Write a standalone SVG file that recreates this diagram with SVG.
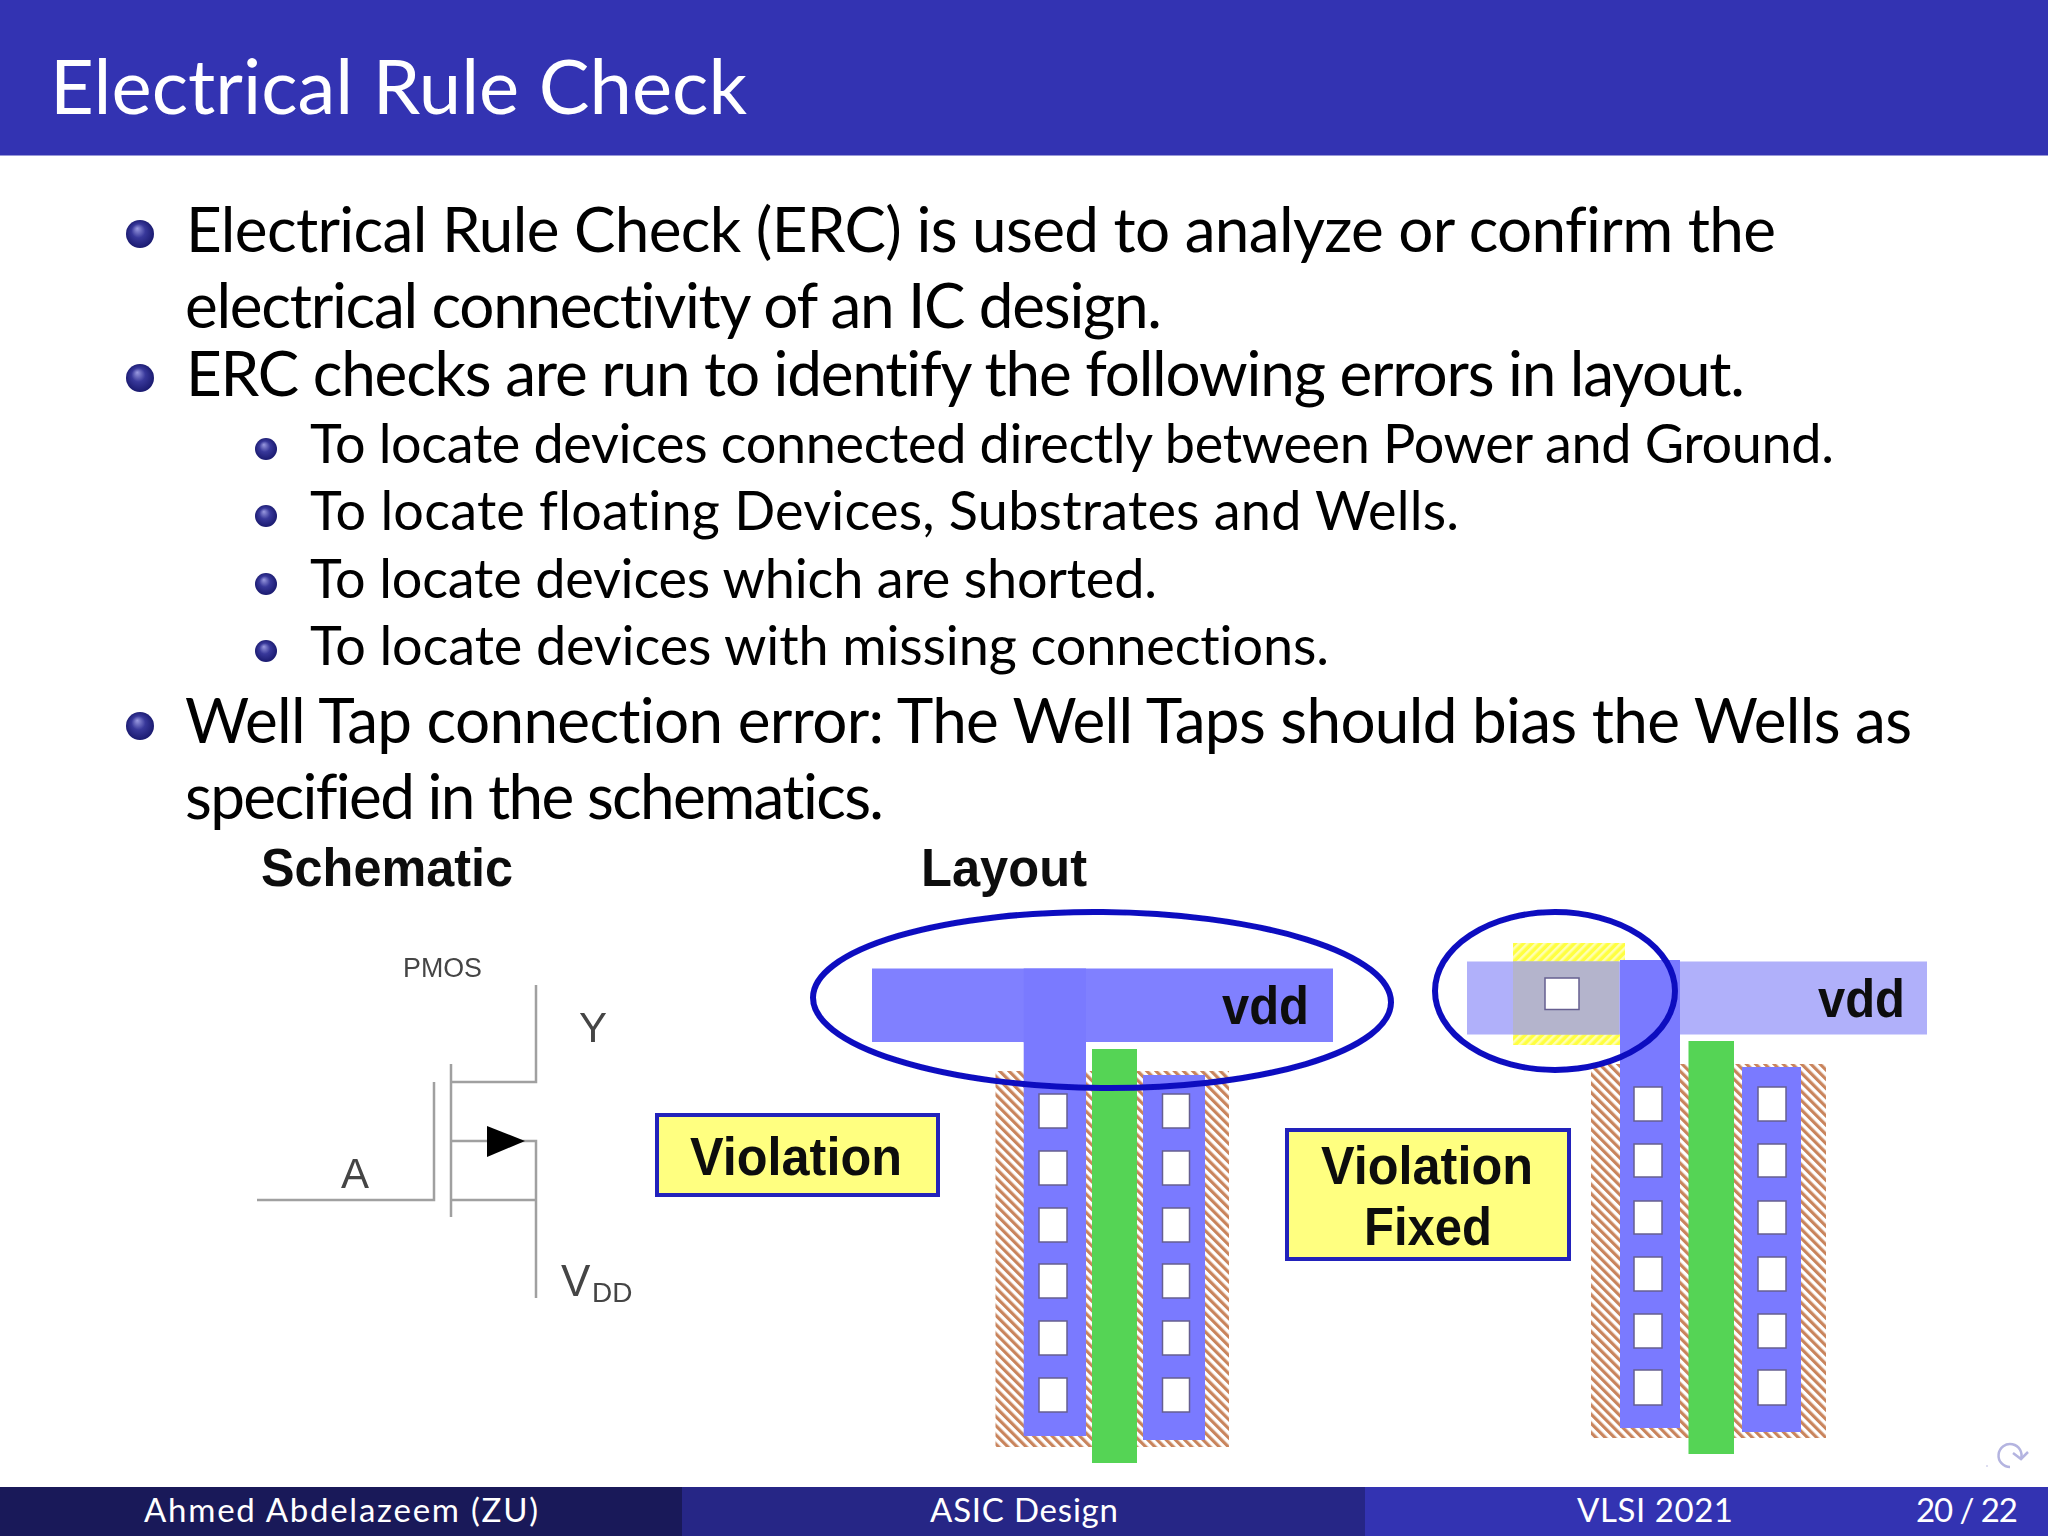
<svg xmlns="http://www.w3.org/2000/svg" width="2048" height="1536" viewBox="0 0 2048 1536">
<style>
text{font-family:"Lato","Noto Sans",sans-serif;fill:#000;font-variant-ligatures:none}
.t{font-size:62px}.s{font-size:54px}
.f{font-size:33px;fill:#fff}
.b{font-family:"Liberation Sans",Arial,sans-serif;font-weight:700;fill:#111}
.g{font-family:"Liberation Sans",Arial,sans-serif;fill:#444}
.w{stroke:#a0a0a0;stroke-width:2.5;fill:none}
.o{fill:none;stroke:#1010c0;stroke-width:6}
.bx{fill:#ffff80;stroke:#2222bb;stroke-width:4}
.c{fill:#fff;stroke:#665f90;stroke-width:1.5}
.m{fill:#7a7aff}.gr{fill:#55d455}
</style>
<defs>
<radialGradient id="ball" cx="0.5" cy="0.5" r="0.55" fx="0.4" fy="0.3">
<stop offset="0" stop-color="#9a9ae0"/><stop offset="0.45" stop-color="#38389a"/><stop offset="1" stop-color="#16166a"/>
</radialGradient>
<pattern id="hatch" width="6.5" height="6.5" patternUnits="userSpaceOnUse" patternTransform="rotate(-45)">
<rect width="6.5" height="6.5" fill="#fff"/><rect width="3.2" height="6.5" fill="#c9845c"/>
</pattern>
<pattern id="yh" width="6" height="6" patternUnits="userSpaceOnUse" patternTransform="rotate(45)">
<rect width="6" height="6" fill="#ffff40"/><rect width="2.500" height="6" fill="#ffffb0"/>
</pattern>
<filter id="soft" x="-5%" y="-5%" width="110%" height="110%"><feGaussianBlur stdDeviation="0.7"/></filter>
</defs>
<rect width="2048" height="1536" fill="#fff"/>
<g id="header"><rect width="2048" height="155.500" fill="#3333b2"/>
<text x="50" y="114" font-size="76" style="fill:#fff" textLength="697">Electrical Rule Check</text></g>
<g id="body">
<circle cx="140" cy="234" r="14" fill="url(#ball)"/>
<circle cx="140" cy="378" r="14" fill="url(#ball)"/>
<circle cx="140" cy="726" r="14" fill="url(#ball)"/>
<circle cx="266" cy="449" r="11" fill="url(#ball)"/>
<circle cx="266" cy="516" r="11" fill="url(#ball)"/>
<circle cx="266" cy="584" r="11" fill="url(#ball)"/>
<circle cx="266" cy="651" r="11" fill="url(#ball)"/>
<text class="t" x="186" y="252" textLength="1590">Electrical Rule Check (ERC) is used to analyze or confirm the</text>
<text class="t" x="185" y="328" textLength="977">electrical connectivity of an IC design.</text>
<text class="t" x="186" y="396" textLength="1559">ERC checks are run to identify the following errors in layout.</text>
<text class="s" x="310" y="463" textLength="1524">To locate devices connected directly between Power and Ground.</text>
<text class="s" x="310" y="530" textLength="1149">To locate floating Devices, Substrates and Wells.</text>
<text class="s" x="310" y="598" textLength="847">To locate devices which are shorted.</text>
<text class="s" x="310" y="665" textLength="1019">To locate devices with missing connections.</text>
<text class="t" x="185" y="743" textLength="1727">Well Tap connection error: The Well Taps should bias the Wells as</text>
<text class="t" x="185" y="819" textLength="699">specified in the schematics.</text>
</g>
<g id="figure" filter="url(#soft)">
<text class="b" x="261" y="886" font-size="53" textLength="252" lengthAdjust="spacingAndGlyphs">Schematic</text>
<text class="b" x="921" y="886" font-size="53" textLength="166" lengthAdjust="spacingAndGlyphs">Layout</text>
<g id="schematic">
<text class="g" x="403" y="977" font-size="27" textLength="79" lengthAdjust="spacingAndGlyphs">PMOS</text>
<path class="w" d="M536 985V1082H451M451 1064V1217M434 1082V1200H257M451 1141H536V1298M451 1200H536"/>
<path d="M487 1126L525 1141L487 1157Z" fill="#000"/>
<text class="g" x="341" y="1188" font-size="42" textLength="30">A</text>
<text class="g" x="579" y="1042" font-size="42" textLength="28">Y</text>
<text class="g" x="561" y="1296" font-size="44">V</text>
<text class="g" x="592" y="1302" font-size="28">DD</text>
</g>
<g id="violation-box"><rect class="bx" x="657" y="1115" width="281" height="80"/>
<text class="b" x="690" y="1175" font-size="54" textLength="212" lengthAdjust="spacingAndGlyphs">Violation</text></g>
<g id="layout-violation">
<rect x="995.500" y="1071" width="233.500" height="376" fill="url(#hatch)"/>
<rect class="m" x="1023.700" y="1042" width="62.300" height="394"/>
<rect class="m" x="1143" y="1075" width="62" height="365"/>
<rect x="872" y="968.500" width="461" height="73.500" fill="#8080ff"/>
<rect class="m" x="1023.700" y="968.500" width="62.300" height="74"/>
<rect class="gr" x="1092" y="1049" width="45" height="414"/>
<g id="contacts-a">
<rect class="c" x="1039" y="1094" width="28" height="34"/><rect class="c" x="1162.500" y="1094" width="27" height="34"/>
<rect class="c" x="1039" y="1151" width="28" height="34"/><rect class="c" x="1162.500" y="1151" width="27" height="34"/>
<rect class="c" x="1039" y="1208" width="28" height="34"/><rect class="c" x="1162.500" y="1208" width="27" height="34"/>
<rect class="c" x="1039" y="1264" width="28" height="34"/><rect class="c" x="1162.500" y="1264" width="27" height="34"/>
<rect class="c" x="1039" y="1321" width="28" height="34"/><rect class="c" x="1162.500" y="1321" width="27" height="34"/>
<rect class="c" x="1039" y="1378" width="28" height="34"/><rect class="c" x="1162.500" y="1378" width="27" height="34"/>
</g>
<text class="b" x="1222" y="1024" font-size="54" textLength="87" lengthAdjust="spacingAndGlyphs">vdd</text>
<ellipse class="o" cx="1102" cy="1000" rx="289" ry="88" transform="rotate(0.5 1102 1000)"/>
</g>
<g id="violation-fixed-box"><rect class="bx" x="1287" y="1130" width="282" height="129"/>
<text class="b" x="1321" y="1184" font-size="54" textLength="212" lengthAdjust="spacingAndGlyphs">Violation</text>
<text class="b" x="1364" y="1245" font-size="54" textLength="128" lengthAdjust="spacingAndGlyphs">Fixed</text></g>
<g id="layout-fixed">
<rect x="1591" y="1064" width="235" height="374" fill="url(#hatch)"/>
<rect x="1513" y="943" width="112" height="102" fill="url(#yh)"/>
<rect x="1467" y="961.500" width="460" height="73" fill="#b0b0fa"/>
<rect x="1513" y="961.500" width="106" height="73" fill="#b4b4cc"/>
<rect class="m" x="1620" y="960" width="60" height="468"/>
<rect class="m" x="1742" y="1067" width="59" height="365"/>
<rect class="gr" x="1688.500" y="1041" width="45.500" height="413"/>
<rect class="c" x="1545" y="978" width="34" height="31.500"/>
<g id="contacts-b">
<rect class="c" x="1634" y="1087" width="28" height="34"/><rect class="c" x="1758" y="1087" width="28" height="34"/>
<rect class="c" x="1634" y="1144" width="28" height="33"/><rect class="c" x="1758" y="1144" width="28" height="33"/>
<rect class="c" x="1634" y="1201" width="28" height="33"/><rect class="c" x="1758" y="1201" width="28" height="33"/>
<rect class="c" x="1634" y="1257" width="28" height="34"/><rect class="c" x="1758" y="1257" width="28" height="34"/>
<rect class="c" x="1634" y="1314" width="28" height="34"/><rect class="c" x="1758" y="1314" width="28" height="34"/>
<rect class="c" x="1634" y="1370" width="28" height="35"/><rect class="c" x="1758" y="1370" width="28" height="35"/>
</g>
<text class="b" x="1818" y="1017" font-size="54" textLength="87" lengthAdjust="spacingAndGlyphs">vdd</text>
<ellipse class="o" cx="1555" cy="991" rx="120" ry="79"/>
</g>
</g>
<g id="footer">
<rect y="1487" width="683" height="49" fill="#191959"/>
<rect x="682" y="1487" width="683" height="49" fill="#262686"/>
<rect x="1365" y="1487" width="683" height="49" fill="#3333b2"/>
<text class="f" x="144" y="1522" textLength="394">Ahmed Abdelazeem (ZU)</text>
<text class="f" x="930" y="1522" textLength="188">ASIC Design</text>
<text class="f" x="1577" y="1522" textLength="156">VLSI 2021</text>
<text class="f" x="1916" y="1522" textLength="102">20 / 22</text>
</g>
<g id="nav" fill="none" stroke="#b4b4e0" stroke-width="2.500"><path d="M2010 1467A11.500 11.500 0 1 1 2021 1459"/><path d="M2013 1453L2021 1459L2028 1452"/><circle cx="1987" cy="1466" r="0.800" fill="#b4b4e0" stroke="none"/></g>
</svg>
